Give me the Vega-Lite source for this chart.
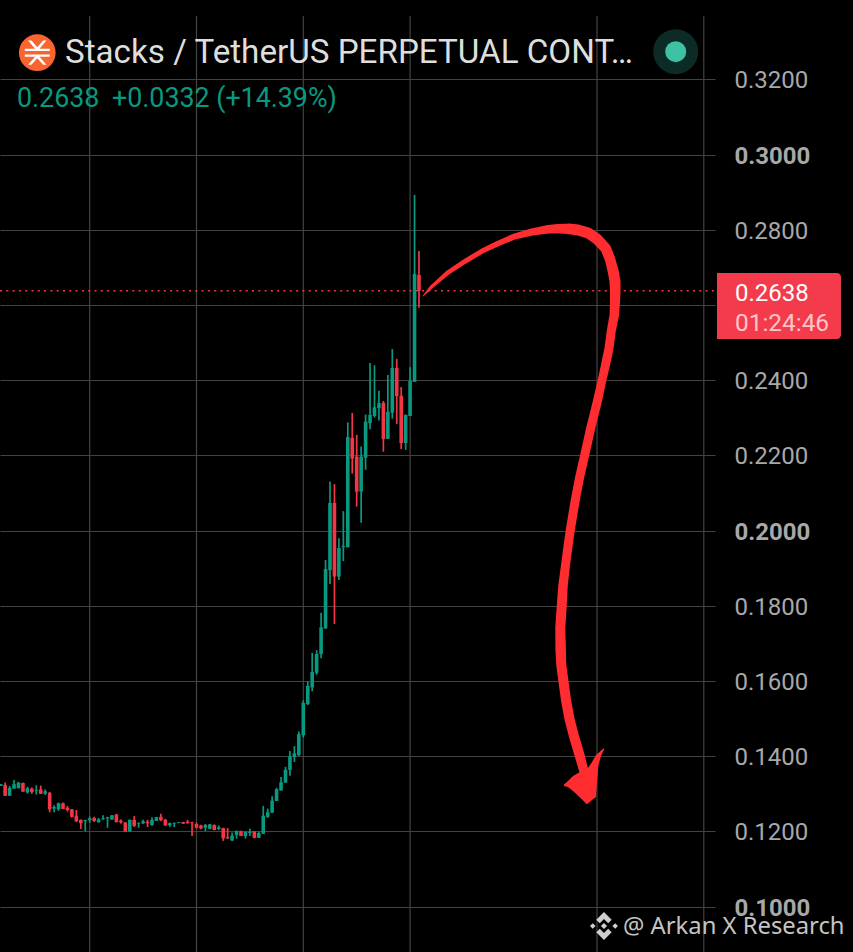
{
  "$schema": "https://vega.github.io/schema/vega-lite/v6.json",
  "width": 715,
  "height": 952,
  "autosize": "none",
  "padding": {"left": 0, "top": 0, "right": 138, "bottom": 0},
  "background": "#000000",
  "config": {"view": {"stroke": null}, "font": "Roboto"},
  "datasets": {
    "candles": [
      {"t":4,"open":0.1321,"high":0.1326,"low":0.1321,"close":0.1326},
      {"t":5,"open":0.1324,"high":0.1330,"low":0.1295,"close":0.1295},
      {"t":6,"open":0.1295,"high":0.1321,"low":0.1295,"close":0.1316},
      {"t":7,"open":0.1314,"high":0.1337,"low":0.1314,"close":0.1326},
      {"t":8,"open":0.1315,"high":0.1332,"low":0.1315,"close":0.1330},
      {"t":9,"open":0.1329,"high":0.1330,"low":0.1306,"close":0.1306},
      {"t":10,"open":0.1304,"high":0.1319,"low":0.1301,"close":0.1315},
      {"t":11,"open":0.1314,"high":0.1317,"low":0.1300,"close":0.1305},
      {"t":12,"open":0.1308,"high":0.1323,"low":0.1298,"close":0.1310},
      {"t":13,"open":0.1312,"high":0.1322,"low":0.1300,"close":0.1300},
      {"t":14,"open":0.1301,"high":0.1312,"low":0.1297,"close":0.1307},
      {"t":15,"open":0.1303,"high":0.1305,"low":0.1251,"close":0.1259},
      {"t":16,"open":0.1261,"high":0.1270,"low":0.1251,"close":0.1265},
      {"t":17,"open":0.1259,"high":0.1277,"low":0.1255,"close":0.1275},
      {"t":18,"open":0.1275,"high":0.1277,"low":0.1259,"close":0.1260},
      {"t":19,"open":0.1263,"high":0.1268,"low":0.1253,"close":0.1257},
      {"t":20,"open":0.1259,"high":0.1260,"low":0.1237,"close":0.1239},
      {"t":21,"open":0.1242,"high":0.1257,"low":0.1225,"close":0.1227},
      {"t":22,"open":0.1231,"high":0.1232,"low":0.1207,"close":0.1222},
      {"t":23,"open":0.1227,"high":0.1231,"low":0.1201,"close":0.1230},
      {"t":24,"open":0.1230,"high":0.1240,"low":0.1223,"close":0.1235},
      {"t":25,"open":0.1236,"high":0.1239,"low":0.1225,"close":0.1228},
      {"t":26,"open":0.1225,"high":0.1236,"low":0.1223,"close":0.1232},
      {"t":27,"open":0.1232,"high":0.1243,"low":0.1231,"close":0.1235},
      {"t":28,"open":0.1235,"high":0.1239,"low":0.1210,"close":0.1238},
      {"t":29,"open":0.1232,"high":0.1244,"low":0.1231,"close":0.1243},
      {"t":30,"open":0.1245,"high":0.1247,"low":0.1224,"close":0.1225},
      {"t":31,"open":0.1229,"high":0.1232,"low":0.1221,"close":0.1224},
      {"t":32,"open":0.1224,"high":0.1225,"low":0.1200,"close":0.1200},
      {"t":33,"open":0.1200,"high":0.1232,"low":0.1200,"close":0.1231},
      {"t":34,"open":0.1231,"high":0.1241,"low":0.1212,"close":0.1215},
      {"t":35,"open":0.1221,"high":0.1224,"low":0.1210,"close":0.1223},
      {"t":36,"open":0.1222,"high":0.1231,"low":0.1220,"close":0.1227},
      {"t":37,"open":0.1226,"high":0.1231,"low":0.1212,"close":0.1222},
      {"t":38,"open":0.1217,"high":0.1238,"low":0.1215,"close":0.1231},
      {"t":39,"open":0.1228,"high":0.1239,"low":0.1228,"close":0.1238},
      {"t":40,"open":0.1239,"high":0.1247,"low":0.1227,"close":0.1230},
      {"t":41,"open":0.1231,"high":0.1234,"low":0.1215,"close":0.1216},
      {"t":42,"open":0.1217,"high":0.1224,"low":0.1212,"close":0.1222},
      {"t":43,"open":0.1221,"high":0.1224,"low":0.1212,"close":0.1223},
      {"t":44,"open":0.1223,"high":0.1225,"low":0.1222,"close":0.1225},
      {"t":45,"open":0.1225,"high":0.1226,"low":0.1220,"close":0.1221},
      {"t":46,"open":0.1226,"high":0.1231,"low":0.1221,"close":0.1222},
      {"t":47,"open":0.1224,"high":0.1226,"low":0.1188,"close":0.1222},
      {"t":48,"open":0.1220,"high":0.1224,"low":0.1208,"close":0.1210},
      {"t":49,"open":0.1216,"high":0.1218,"low":0.1206,"close":0.1208},
      {"t":50,"open":0.1210,"high":0.1220,"low":0.1201,"close":0.1217},
      {"t":51,"open":0.1207,"high":0.1220,"low":0.1206,"close":0.1219},
      {"t":52,"open":0.1217,"high":0.1219,"low":0.1203,"close":0.1204},
      {"t":53,"open":0.1207,"high":0.1216,"low":0.1204,"close":0.1211},
      {"t":54,"open":0.1209,"high":0.1210,"low":0.1175,"close":0.1182},
      {"t":55,"open":0.1185,"high":0.1209,"low":0.1180,"close":0.1182},
      {"t":56,"open":0.1176,"high":0.1197,"low":0.1175,"close":0.1189},
      {"t":57,"open":0.1191,"high":0.1203,"low":0.1181,"close":0.1201},
      {"t":58,"open":0.1201,"high":0.1202,"low":0.1188,"close":0.1188},
      {"t":59,"open":0.1188,"high":0.1200,"low":0.1181,"close":0.1199},
      {"t":60,"open":0.1196,"high":0.1207,"low":0.1188,"close":0.1199},
      {"t":61,"open":0.1200,"high":0.1201,"low":0.1182,"close":0.1183},
      {"t":62,"open":0.1183,"high":0.1200,"low":0.1183,"close":0.1196},
      {"t":63,"open":0.1194,"high":0.1268,"low":0.1194,"close":0.1242},
      {"t":64,"open":0.1239,"high":0.1261,"low":0.1236,"close":0.1251},
      {"t":65,"open":0.1250,"high":0.1294,"low":0.1250,"close":0.1282},
      {"t":66,"open":0.1281,"high":0.1316,"low":0.1281,"close":0.1312},
      {"t":67,"open":0.1309,"high":0.1345,"low":0.1309,"close":0.1331},
      {"t":68,"open":0.1330,"high":0.1372,"low":0.1330,"close":0.1364},
      {"t":69,"open":0.1364,"high":0.1414,"low":0.1348,"close":0.1400},
      {"t":70,"open":0.1398,"high":0.1427,"low":0.1385,"close":0.1408},
      {"t":71,"open":0.1403,"high":0.1466,"low":0.1401,"close":0.1459},
      {"t":72,"open":0.1456,"high":0.1549,"low":0.1450,"close":0.1542},
      {"t":73,"open":0.1539,"high":0.1599,"low":0.1536,"close":0.1587},
      {"t":74,"open":0.1583,"high":0.1675,"low":0.1573,"close":0.1624},
      {"t":75,"open":0.1622,"high":0.1682,"low":0.1617,"close":0.1672},
      {"t":76,"open":0.1672,"high":0.1782,"low":0.1661,"close":0.1743},
      {"t":77,"open":0.1740,"high":0.1922,"low":0.1739,"close":0.1898},
      {"t":78,"open":0.1895,"high":0.2131,"low":0.1858,"close":0.2074},
      {"t":79,"open":0.2074,"high":0.2124,"low":0.1752,"close":0.1878},
      {"t":80,"open":0.1878,"high":0.1980,"low":0.1869,"close":0.1954},
      {"t":81,"open":0.1956,"high":0.2052,"low":0.1919,"close":0.1959},
      {"t":82,"open":0.1956,"high":0.2288,"low":0.1956,"close":0.2249},
      {"t":83,"open":0.2247,"high":0.2313,"low":0.2152,"close":0.2192},
      {"t":84,"open":0.2197,"high":0.2255,"low":0.2064,"close":0.2104},
      {"t":85,"open":0.2104,"high":0.2224,"low":0.2021,"close":0.2197},
      {"t":86,"open":0.2194,"high":0.2309,"low":0.2162,"close":0.2290},
      {"t":87,"open":0.2286,"high":0.2446,"low":0.2270,"close":0.2308},
      {"t":88,"open":0.2305,"high":0.2440,"low":0.2301,"close":0.2328},
      {"t":89,"open":0.2326,"high":0.2372,"low":0.2293,"close":0.2339},
      {"t":90,"open":0.2340,"high":0.2345,"low":0.2210,"close":0.2244},
      {"t":91,"open":0.2244,"high":0.2414,"low":0.2244,"close":0.2316},
      {"t":92,"open":0.2314,"high":0.2483,"low":0.2298,"close":0.2433},
      {"t":93,"open":0.2433,"high":0.2457,"low":0.2284,"close":0.2358},
      {"t":94,"open":0.2359,"high":0.2382,"low":0.2217,"close":0.2233},
      {"t":95,"open":0.2233,"high":0.2309,"low":0.2215,"close":0.2308},
      {"t":96,"open":0.2305,"high":0.2435,"low":0.2305,"close":0.2398},
      {"t":97,"open":0.2396,"high":0.2893,"low":0.2396,"close":0.2683},
      {"t":98,"open":0.2680,"high":0.2744,"low":0.2593,"close":0.2638}
    ],
    "arrow": [
      {"i":0,"t":98.90,"price":0.26242,"w":1},
      {"i":1,"t":100.85,"price":0.26489,"w":3.5},
      {"i":2,"t":104.58,"price":0.26872,"w":4.5},
      {"i":3,"t":108.34,"price":0.27165,"w":5},
      {"i":4,"t":112.09,"price":0.27430,"w":5},
      {"i":5,"t":115.75,"price":0.27638,"w":5.5},
      {"i":6,"t":119.57,"price":0.27829,"w":6},
      {"i":7,"t":123.39,"price":0.27944,"w":7},
      {"i":8,"t":127.06,"price":0.28016,"w":8.5},
      {"i":9,"t":129.24,"price":0.28032,"w":9.5},
      {"i":10,"t":131.55,"price":0.28032,"w":10.5},
      {"i":11,"t":133.73,"price":0.27997,"w":11},
      {"i":12,"t":136.04,"price":0.27917,"w":11},
      {"i":13,"t":138.00,"price":0.27758,"w":11},
      {"i":14,"t":139.96,"price":0.27510,"w":10.5},
      {"i":15,"t":140.92,"price":0.27226,"w":10.5},
      {"i":16,"t":141.66,"price":0.26888,"w":11},
      {"i":17,"t":142.04,"price":0.26641,"w":11},
      {"i":18,"t":142.11,"price":0.26356,"w":10.5},
      {"i":19,"t":142.04,"price":0.26055,"w":10},
      {"i":20,"t":141.89,"price":0.25736,"w":9.5},
      {"i":21,"t":141.21,"price":0.25311,"w":9},
      {"i":22,"t":140.70,"price":0.24851,"w":9},
      {"i":23,"t":139.91,"price":0.24407,"w":9},
      {"i":24,"t":139.06,"price":0.23962,"w":8.5},
      {"i":25,"t":138.16,"price":0.23476,"w":9},
      {"i":26,"t":136.65,"price":0.22758,"w":9},
      {"i":27,"t":135.24,"price":0.22013,"w":9},
      {"i":28,"t":134.07,"price":0.21401,"w":9},
      {"i":29,"t":133.12,"price":0.20816,"w":9},
      {"i":30,"t":132.00,"price":0.20018,"w":9},
      {"i":31,"t":131.37,"price":0.19486,"w":9},
      {"i":32,"t":130.88,"price":0.19042,"w":9},
      {"i":33,"t":130.36,"price":0.18529,"w":9.5},
      {"i":34,"t":130.07,"price":0.17978,"w":10},
      {"i":35,"t":129.75,"price":0.17412,"w":10},
      {"i":36,"t":129.84,"price":0.16835,"w":10.5},
      {"i":37,"t":129.98,"price":0.16428,"w":10},
      {"i":38,"t":130.43,"price":0.16029,"w":10},
      {"i":39,"t":131.03,"price":0.15497,"w":10},
      {"i":40,"t":131.87,"price":0.14965,"w":10},
      {"i":41,"t":132.94,"price":0.14486,"w":10},
      {"i":42,"t":134.18,"price":0.13989,"w":10},
      {"i":43,"t":135.30,"price":0.13502,"w":9}
    ],
    "arrowHead": [
      {"t":130.58,"top":0.1325,"bottom":0.1321},
      {"t":131.48,"top":0.13343,"bottom":0.13183},
      {"t":132.61,"top":0.13476,"bottom":0.13077},
      {"t":134.18,"top":0.13582,"bottom":0.12904},
      {"t":135.69,"top":0.13635,"bottom":0.12723},
      {"t":135.98,"top":0.13688,"bottom":0.12744},
      {"t":136.88,"top":0.13848,"bottom":0.12837},
      {"t":137.78,"top":0.14034,"bottom":0.12917},
      {"t":138.00,"top":0.14061,"bottom":0.13316},
      {"t":138.34,"top":0.14087,"bottom":0.13768},
      {"t":138.90,"top":0.14154,"bottom":0.14008},
      {"t":139.64,"top":0.1422,"bottom":0.14194}
    ]
  },
  "encoding": {
    "x": {
      "field": "t",
      "type": "quantitative",
      "scale": {"domain": [3.843, 164.52], "nice": false, "zero": false},
      "axis": null
    },
    "y": {
      "field": "price",
      "type": "quantitative",
      "scale": {"domain": [0.08795, 0.34114], "nice": false, "zero": false},
      "axis": {
        "orient": "right",
        "title": null,
        "values": [0.1, 0.12, 0.14, 0.16, 0.18, 0.2, 0.22, 0.24, 0.26, 0.28, 0.3, 0.32],
        "labelExpr": "datum.value == 0.26 ? '' : format(datum.value, '.4f')",
        "domain": false,
        "ticks": false,
        "grid": true,
        "gridColor": "#434343",
        "gridWidth": 1,
        "labelPadding": 19,
        "labelOffset": 1.5,
        "labelFont": "Roboto",
        "labelFontSize": 24,
        "labelColor": "#a8a8a8",
        "labelFontWeight": {"condition": {"test": "datum.value == 0.1 || datum.value == 0.2 || datum.value == 0.3", "value": "bold"}, "value": "normal"}
      }
    }
  },
  "layer": [
    {
      "data": {"values": [
        {"t": 24, "price": 0.3369, "price2": 0.08795},
        {"t": 48, "price": 0.3369, "price2": 0.08795},
        {"t": 72, "price": 0.3369, "price2": 0.08795},
        {"t": 96, "price": 0.3369, "price2": 0.08795},
        {"t": 138, "price": 0.3369, "price2": 0.08795},
        {"t": 162, "price": 0.3369, "price2": 0.08795}
      ]},
      "mark": {"type": "rule", "color": "#434343", "strokeWidth": 1.2},
      "encoding": {"y2": {"field": "price2"}}
    },
    {
      "data": {"values": [{"t": 3.843, "t2": 164.97, "price": 0.2638}]},
      "mark": {"type": "rule", "color": "#F23645", "strokeWidth": 1.5, "strokeDash": [2, 4.3]},
      "encoding": {"x2": {"field": "t2"}}
    },
    {
      "data": {"name": "candles"},
      "mark": {"type": "rule", "strokeWidth": 1.7},
      "encoding": {
        "y": {"field": "low", "type": "quantitative", "scale": {"domain": [0.08795, 0.34114], "nice": false, "zero": false}, "axis": {"orient": "right", "title": null}},
        "y2": {"field": "high"},
        "color": {"condition": {"test": "datum.close >= datum.open", "value": "#089981"}, "value": "#F23645"}
      }
    },
    {
      "data": {"name": "candles"},
      "mark": {"type": "rule", "strokeWidth": 3.6},
      "encoding": {
        "y": {"field": "open", "type": "quantitative", "scale": {"domain": [0.08795, 0.34114], "nice": false, "zero": false}, "axis": {"orient": "right", "title": null}},
        "y2": {"field": "close"},
        "color": {"condition": {"test": "datum.close >= datum.open", "value": "#089981"}, "value": "#F23645"}
      }
    },
    {
      "data": {"name": "arrow"},
      "mark": {"type": "trail", "color": "#FF2D30"},
      "encoding": {
        "order": {"field": "i", "type": "quantitative"},
        "size": {"field": "w", "type": "quantitative", "scale": null}
      }
    },
    {
      "data": {"name": "arrowHead"},
      "mark": {"type": "area", "color": "#FF2D30", "orient": "vertical"},
      "encoding": {
        "y": {"field": "top", "type": "quantitative", "scale": {"domain": [0.08795, 0.34114], "nice": false, "zero": false}, "axis": {"orient": "right", "title": null}},
        "y2": {"field": "bottom"}
      }
    },
    {
      "data": {"values": [{"t": 164.97, "t2": 192.83, "price": 0.26853, "price2": 0.25098}]},
      "mark": {"type": "rect", "color": "#F43B4B", "cornerRadiusTopRight": 4, "cornerRadiusBottomRight": 4},
      "encoding": {"x2": {"field": "t2"}, "y2": {"field": "price2"}}
    },
    {
      "data": {"values": [{"t": 169.01, "price": 0.26295, "label": "0.2638"}]},
      "mark": {"type": "text", "align": "left", "baseline": "middle", "font": "Roboto", "fontSize": 24, "color": "#FFFFFF"},
      "encoding": {"text": {"field": "label"}}
    },
    {
      "data": {"values": [{"t": 169.01, "price": 0.25497, "label": "01:24:46"}]},
      "mark": {"type": "text", "align": "left", "baseline": "middle", "font": "Roboto", "fontSize": 24.4, "color": "#FFC5CA"},
      "encoding": {"text": {"field": "label"}}
    },
    {
      "data": {"values": [{"t": 18.45, "price": 0.32704, "label": "Stacks / TetherUS PERPETUAL CONT…"}]},
      "mark": {"type": "text", "align": "left", "baseline": "middle", "font": "Roboto", "fontSize": 33.2, "color": "#DEDEDE"},
      "encoding": {"text": {"field": "label"}}
    },
    {
      "data": {"values": [
        {"t": 7.66, "price": 0.31481, "label": "0.2638"},
        {"t": 29.01, "price": 0.31481, "label": "+0.0332 (+14.39%)"}
      ]},
      "mark": {"type": "text", "align": "left", "baseline": "middle", "font": "Roboto", "fontSize": 26.8, "color": "#089981"},
      "encoding": {"text": {"field": "label"}}
    },
    {
      "data": {"values": [{"t": 12.22, "price": 0.32712}]},
      "mark": {"type": "point", "shape": "circle", "filled": true, "opacity": 1, "size": 1347, "color": "#F9652F"}
    },
    {
      "data": {"values": [{"t": 12.22, "price": 0.32712}]},
      "mark": {
        "type": "point", "filled": true, "opacity": 1, "size": 1347, "color": "#FFFFFF",
        "shape": "M-.68 -.22H.68V-.1H-.68Z M-.68 .1H.68V.22H-.68Z M-.5 -.66L-.32 -.66L0 -.3L.32 -.66L.5 -.66L.12 -.22L-.12 -.22Z M-.5 .66L-.32 .66L0 .3L.32 .66L.5 .66L.12 .22L-.12 .22Z"
      }
    },
    {
      "data": {"values": [{"t": 155.69, "price": 0.32739}]},
      "mark": {"type": "point", "shape": "circle", "filled": true, "opacity": 1, "size": 2025, "color": "#0C2B27"}
    },
    {
      "data": {"values": [{"t": 155.69, "price": 0.32739}]},
      "mark": {"type": "point", "shape": "circle", "filled": true, "opacity": 1, "size": 441, "color": "#3FC1A6"}
    },
    {
      "data": {"values": [{"t": 139.57, "price": 0.09486}]},
      "mark": {
        "type": "point", "filled": true, "opacity": 1, "size": 784, "color": "#CFCFCF",
        "shape": "M0 -.22L.22 0L0 .22L-.22 0Z M-.8 -.2L-.6 0L-.8 .2L-1 0Z M.8 -.2L1 0L.8 .2L.6 0Z M0 -1L.55 -.45L.3 -.2L0 -.5L-.3 -.2L-.55 -.45Z M0 1L.55 .45L.3 .2L0 .5L-.3 .2L-.55 .45Z"
      }
    },
    {
      "data": {"values": [{"t": 143.84, "price": 0.0946, "label": "@ Arkan X Research"}]},
      "mark": {"type": "text", "align": "left", "baseline": "middle", "font": "Noto Sans", "fontSize": 23.8, "color": "#C4C4C4"},
      "encoding": {"text": {"field": "label"}}
    }
  ]
}
